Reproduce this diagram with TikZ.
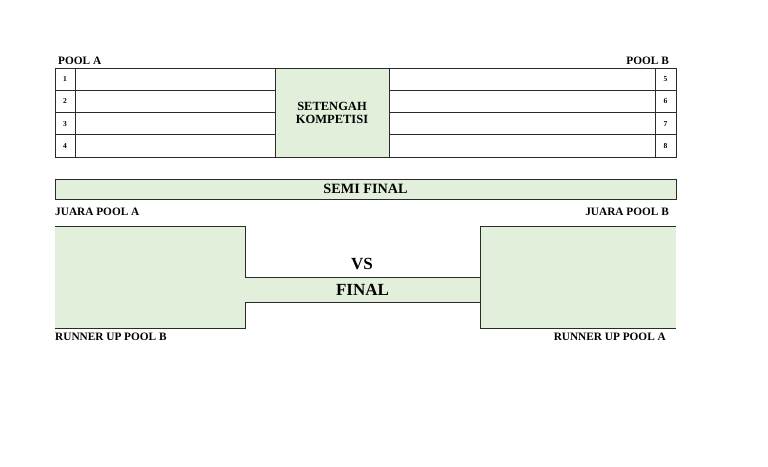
\documentclass[tikz,border=0pt]{standalone}
\usepackage{fontspec}
\setmainfont{Liberation Serif}
\usepackage{tikz}
\definecolor{gridline}{HTML}{2B2B2B}
\definecolor{softgreen}{HTML}{E2EFDA}

\begin{document}
\begin{tikzpicture}[x=1pt,y=-1pt,
    cell/.style={draw=gridline,line width=0.9pt,anchor=north west,inner sep=0pt,outer sep=0pt,minimum height=22.25pt},
    nocell/.style={cell,minimum width=20pt,font=\bfseries\fontsize{7.5}{8}\selectfont},
    namecell/.style={cell},
    greencell/.style={cell,fill=softgreen},
    lbl/.style={font=\bfseries\fontsize{11.3}{12}\selectfont,inner sep=0pt}]
    \useasboundingbox (0,0) rectangle (768,466);
    % pool labels
    \node[lbl,anchor=west] (poolA) at (58,61) {POOL A};
    \node[lbl,anchor=east] (poolB) at (669,61) {POOL B};
    % pool A rows
    \node[nocell] (n1) at (55,68) {1};
    \node[nocell] (n2) at (55,90.25) {2};
    \node[nocell] (n3) at (55,112.5) {3};
    \node[nocell] (n4) at (55,134.75) {4};
    \node[namecell,minimum width=200pt] (a1) at (75,68) {};
    \node[namecell,minimum width=200pt] (a2) at (75,90.25) {};
    \node[namecell,minimum width=200pt] (a3) at (75,112.5) {};
    \node[namecell,minimum width=200pt] (a4) at (75,134.75) {};
    % middle
    \node[greencell,minimum width=114pt,minimum height=89pt,align=center,font=\bfseries\fontsize{12.5}{13}\selectfont] (half) at (275,68) {SETENGAH\\KOMPETISI};
    % pool B rows
    \node[namecell,minimum width=266pt] (b5) at (389,68) {};
    \node[namecell,minimum width=266pt] (b6) at (389,90.25) {};
    \node[namecell,minimum width=266pt] (b7) at (389,112.5) {};
    \node[namecell,minimum width=266pt] (b8) at (389,134.75) {};
    \node[nocell,minimum width=21pt] (n5) at (655,68) {5};
    \node[nocell,minimum width=21pt] (n6) at (655,90.25) {6};
    \node[nocell,minimum width=21pt] (n7) at (655,112.5) {7};
    \node[nocell,minimum width=21pt] (n8) at (655,134.75) {8};
    % semi final
    \node[greencell,minimum width=621pt,minimum height=20pt,font=\bfseries\fontsize{14.2}{15}\selectfont] (semi) at (55,179) {SEMI FINAL};
    \node[lbl,anchor=west] (juaraA) at (55,212) {JUARA POOL A};
    \node[lbl,anchor=east] (juaraB) at (669,212) {JUARA POOL B};
    \node[fill=softgreen,anchor=north west,inner sep=0pt,outer sep=0pt,minimum width=190pt,minimum height=102pt] (boxA) at (55,226) {};
    \node[fill=softgreen,anchor=north west,inner sep=0pt,outer sep=0pt,minimum width=196pt,minimum height=102pt] (boxB) at (480,226) {};
    \draw[gridline,line width=0.9pt] (boxA.north west) -- (boxA.north east) -- (boxA.south east) -- (boxA.south west);
    \draw[gridline,line width=0.9pt] (boxB.north east) -- (boxB.north west) -- (boxB.south west) -- (boxB.south east);
    % final
    \node[fill=softgreen,anchor=north west,inner sep=0pt,outer sep=0pt,minimum width=235pt,minimum height=25pt,font=\bfseries\fontsize{17}{18}\selectfont] (final) at (245,277) {FINAL};
    \draw[gridline,line width=0.9pt] (final.north west) -- (final.north east);
    \draw[gridline,line width=0.9pt] (final.south west) -- (final.south east);
    \node[font=\bfseries\fontsize{17}{18}\selectfont,inner sep=0pt] (vs) at (362,264) {VS};
    \node[lbl,anchor=west] (runnerB) at (55,337) {RUNNER UP POOL B};
    \node[lbl,anchor=east] (runnerA) at (666,337) {RUNNER UP POOL A};
\end{tikzpicture}
\end{document}
